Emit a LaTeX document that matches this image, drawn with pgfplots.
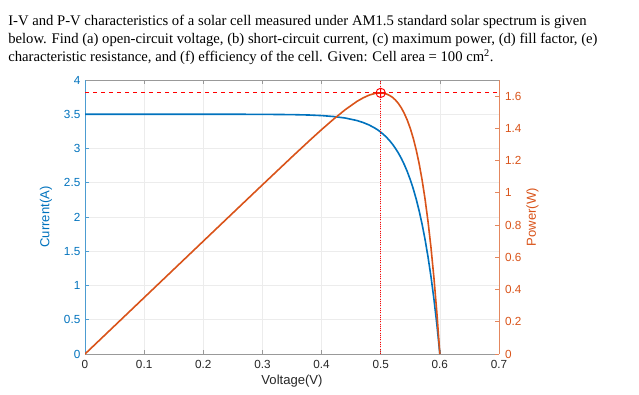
\documentclass[border=0pt]{standalone}
\usepackage{fontspec}
\setmainfont{Liberation Serif}
\newfontfamily\arial{Liberation Sans}
\usepackage{pgfplots}
\usepackage{pgfplotstable}
\pgfplotsset{compat=1.18}
\definecolor{mblue}{RGB}{0,114,189}
\definecolor{morange}{RGB}{217,83,25}
\definecolor{tickgray}{RGB}{38,38,38}
\pgfplotstableread{
V I P
0 3.5 0
0.05 3.5 0.175
0.1 3.5 0.35
0.15 3.5 0.525
0.2 3.5 0.7
0.25 3.4999 0.875
0.3 3.4986 1.0496
0.35 3.4947 1.2231
0.38 3.4885 1.3256
0.4 3.4806 1.3922
0.42 3.467 1.4561
0.44 3.445 1.5158
0.46 3.408 1.5677
0.47 3.380 1.5886
0.48 3.345 1.6056
0.49 3.299 1.6165
0.495 3.271 1.6191
0.5 3.239 1.6195
0.505 3.203 1.6175
0.51 3.162 1.6126
0.515 3.115 1.6042
0.52 3.062 1.5922
0.525 3.001 1.5755
0.53 2.932 1.5540
0.535 2.853 1.5264
0.54 2.763 1.4920
0.545 2.661 1.4502
0.55 2.545 1.3998
0.555 2.413 1.3392
0.56 2.262 1.2667
0.565 2.090 1.1809
0.57 1.894 1.0796
0.575 1.671 0.9608
0.58 1.417 0.8219
0.585 1.130 0.6611
0.59 0.801 0.4726
0.595 0.427 0.2541
0.6 0 0
}\cell
\begin{document}
\begin{tikzpicture}
\path (0pt,0pt) rectangle (479.25pt,295.5pt);
\begin{scope}[every node/.style={anchor=base west, inner sep=0pt, font=\fontsize{11}{13}\selectfont}]
\node at (6pt,276.5pt) {I-V and P-V characteristics of a solar cell measured under AM1.5 standard solar spectrum is given};
\node at (6pt,263pt) {below. Find (a) open-circuit voltage, (b) short-circuit current, (c) maximum power, (d) fill factor, (e)};
\node at (6pt,249.2pt) {characteristic resistance, and (f) efficiency of the cell. Given: Cell area = 100 cm\textsuperscript{2}.};
\end{scope}
\begin{axis}[
  name=main,
  at={(63.75pt,30pt)}, anchor=south west, scale only axis,
  width=310.5pt, height=205.5pt,
  xmin=0, xmax=0.7, ymin=0, ymax=4,
  axis y line*=left, axis x line*=box,
  x axis line style={draw=gray!80, line width=0.5pt},
  y axis line style={draw=mblue!70, line width=0.5pt},
  tick align=inside, major tick length=3pt,
  xtick={0,0.1,0.2,0.3,0.4,0.5,0.6,0.7},
  ytick={0,0.5,1,1.5,2,2.5,3,3.5,4},
  xtick style={draw=gray!80, line width=0.5pt},
  ytick style={draw=mblue!70, line width=0.5pt},
  grid=major, grid style={draw=gray!15, line width=0.4pt},
  x tick label style={text=tickgray, yshift=-1.2pt},
  y tick label style={text=mblue},
  tick label style={font=\arial\fontsize{8.8}{10}\selectfont},
  /pgf/number format/assume math mode=true,
  label style={font=\arial\fontsize{9.8}{11}\selectfont},
  xlabel={Voltage(V)}, ylabel={Current(A)},
  xlabel style={text=tickgray, yshift=2pt},
  ylabel style={text=mblue, yshift=2pt},
]
\addplot[mblue, line width=1.2pt] table[x=V, y=I] {\cell};
\end{axis}
\begin{axis}[
  at={(main.south west)}, anchor=south west, scale only axis,
  width=310.5pt, height=205.5pt,
  xmin=0, xmax=0.7, ymin=0, ymax=1.7,
  axis y line*=right, axis x line*=bottom, xtick=\empty,
  x axis line style={draw=none},
  y axis line style={draw=morange!70, line width=0.5pt},
  tick align=inside, major tick length=3pt,
  ytick={0,0.2,0.4,0.6,0.8,1,1.2,1.4,1.6},
  ytick style={draw=morange!70, line width=0.5pt},
  y tick label style={text=morange, xshift=1pt},
  tick label style={font=\arial\fontsize{8.8}{10}\selectfont},
  /pgf/number format/assume math mode=true,
  label style={font=\arial\fontsize{9.8}{11}\selectfont},
  ylabel={Power(W)},
  ylabel style={text=morange, yshift=3pt},
]
\addplot[red, dashed, line width=0.7pt] coordinates {(0,1.62) (0.7,1.62)};
\addplot[red, densely dotted, line width=0.7pt] coordinates {(0.5,0) (0.5,1.7)};
\addplot[morange, line width=1.2pt] table[x=V, y=P] {\cell};
\addplot[red, only marks, mark=oplus, mark size=3.5pt, line width=0.7pt] coordinates {(0.5,1.62)};
\end{axis}
\end{tikzpicture}
\end{document}
